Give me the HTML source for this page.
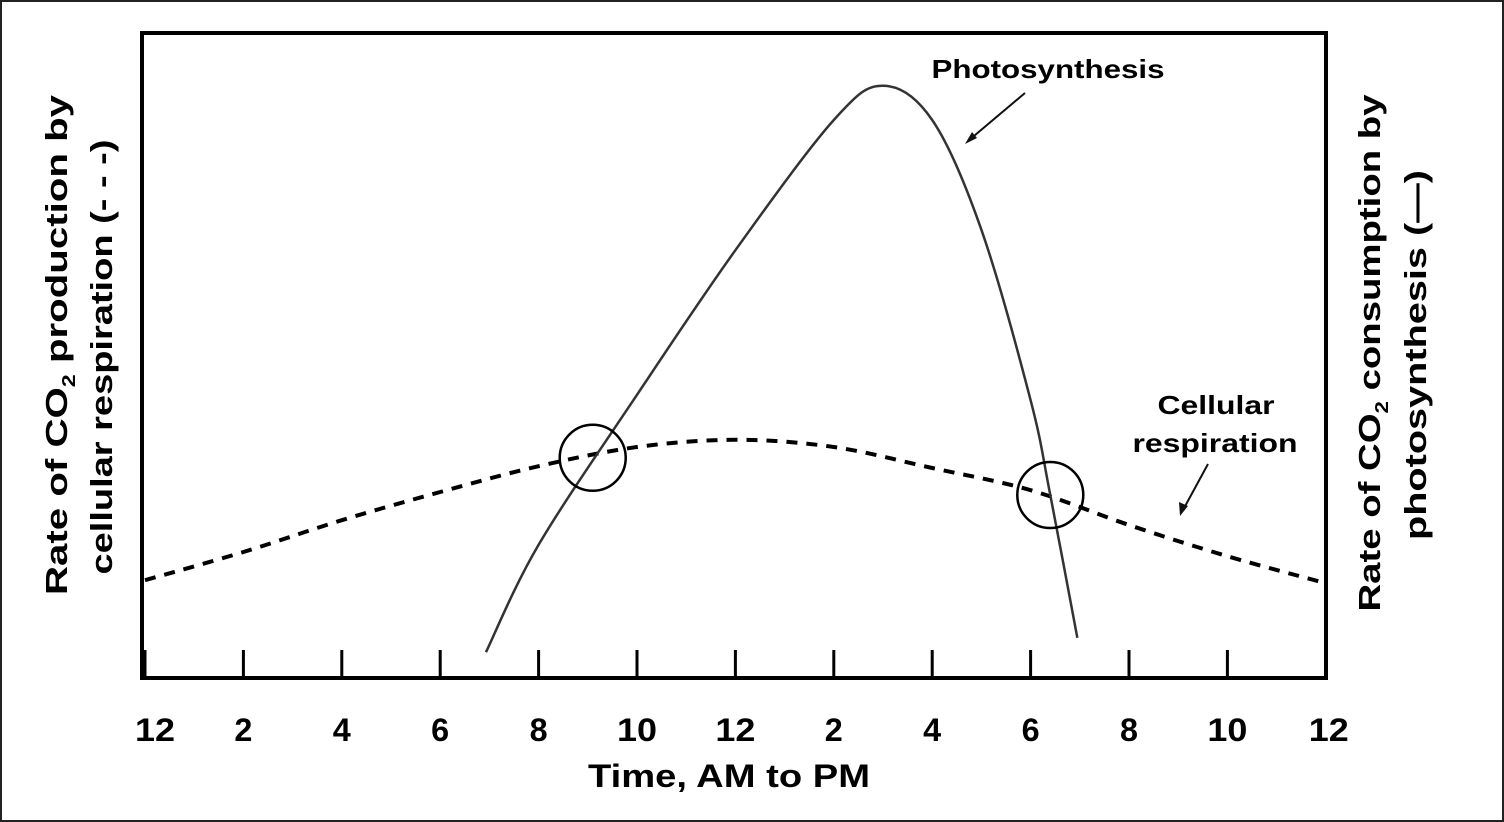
<!DOCTYPE html>
<html><head><meta charset="utf-8"><style>
body{margin:0;background:#fff;}
svg{display:block;font-family:"Liberation Sans",Arial,sans-serif;font-weight:bold;}
</style></head><body>
<svg width="1504" height="822" viewBox="0 0 1504 822">
<rect x="1" y="1" width="1502" height="820" fill="#fff" stroke="#222" stroke-width="2"/>
<g id="plot"></g>
<text x="1048" y="78" font-size="26" text-anchor="middle" textLength="233" lengthAdjust="spacingAndGlyphs">Photosynthesis</text>
<line x1="1025" y1="93" x2="968" y2="141" stroke="#111" stroke-width="2"/>
<polygon points="965,144 972,132 977,138" fill="#111"/>
<text x="1216" y="414" font-size="26" text-anchor="middle" textLength="117" lengthAdjust="spacingAndGlyphs">Cellular</text>
<text x="1215" y="452" font-size="26" text-anchor="middle" textLength="165" lengthAdjust="spacingAndGlyphs">respiration</text>
<line x1="1208" y1="464" x2="1183" y2="510" stroke="#111" stroke-width="2"/>
<polygon points="1180,516 1179,502 1188,506" fill="#111"/>
<text transform="translate(67,345) rotate(-90)" font-size="31" text-anchor="middle" textLength="500" lengthAdjust="spacingAndGlyphs">Rate of CO<tspan font-size="18" dy="8">2</tspan><tspan dy="-8"> production by</tspan></text>
<text transform="translate(112,357) rotate(-90)" font-size="31" text-anchor="middle" textLength="435" lengthAdjust="spacingAndGlyphs">cellular respiration (- - -)</text>
<text transform="translate(1380,353) rotate(-90)" font-size="31" text-anchor="middle" textLength="517" lengthAdjust="spacingAndGlyphs">Rate of CO<tspan font-size="18" dy="8">2</tspan><tspan dy="-8"> consumption by</tspan></text>
<text transform="translate(1426,355) rotate(-90)" font-size="31" text-anchor="middle" textLength="370" lengthAdjust="spacingAndGlyphs">photosynthesis (—)</text>
<text x="729" y="787" font-size="32" text-anchor="middle" textLength="282" lengthAdjust="spacingAndGlyphs">Time, AM to PM</text>
</svg>
<script>
const tickLabels=["12","2","4","6","8","10","12","2","4","6","8","10","12"];
const tickHours=[0,2,4,6,8,10,12,14,16,18,20,22,24];
const photoHours=[6.93,8,10,12,14,15,16,17,18,18.4,18.95];
const photoValues=[4.3,22.2,47.2,71.3,93,98.7,93,74.7,46.3,30.5,6.7];
const respHours=[0,2,4,6,8,10,12,14,16,18,20,22,24];
const respValues=[16.3,21,26.3,31,35.3,38.5,39.7,38.5,35,31.3,25.5,20.3,15.8];
const compHours=[9.1,18.4];
const compValues=[36.7,30.5];

const X0=145,PX=49.2,Y0=678,PY=6;
const xs=h=>X0+h*PX, ys=v=>Y0-v*PY;
const NS="http://www.w3.org/2000/svg";
const g=document.getElementById('plot');
function mk(t,a){const e=document.createElementNS(NS,t);for(const k in a)e.setAttribute(k,a[k]);g.appendChild(e);return e;}
function smooth(hs,vs){const p=hs.map((h,i)=>[xs(h),ys(vs[i])]);let d=`M${p[0][0]},${p[0][1]}`;
for(let i=0;i<p.length-1;i++){const a=p[i-1]||p[i],b=p[i],c=p[i+1],e=p[i+2]||c;
d+=` C${b[0]+(c[0]-a[0])/6},${b[1]+(c[1]-a[1])/6} ${c[0]-(e[0]-b[0])/6},${c[1]-(e[1]-b[1])/6} ${c[0]},${c[1]}`;}return d;}
const frame=mk('rect',{x:142,y:33,width:1184,height:645,fill:'none',stroke:'#000','stroke-width':4});


tickHours.forEach((h,i)=>{
 const t=mk('line',{x1:xs(h),x2:xs(h),y1:650,y2:678,stroke:'#000','stroke-width':3});
 
 
 const w=tickLabels[i].length>1?40:18;
 const l=mk('text',{x:xs(h)+(i==0?10:i==12?3:0),y:741,'font-size':32,'text-anchor':'middle',textLength:w,lengthAdjust:'spacingAndGlyphs'});
 l.textContent=tickLabels[i];
 
 
});
const r=mk('path',{d:smooth(respHours,respValues),fill:'none',stroke:'#000','stroke-width':4,'stroke-dasharray':'11 9'});


const p=mk('path',{d:smooth(photoHours,photoValues),fill:'none',stroke:'#333','stroke-width':2.5});


compHours.forEach((h,i)=>{
 const c=mk('circle',{cx:xs(h),cy:ys(compValues[i]),r:33,fill:'none',stroke:'#000','stroke-width':2.5});
 
 
});
</script>
</body></html>
